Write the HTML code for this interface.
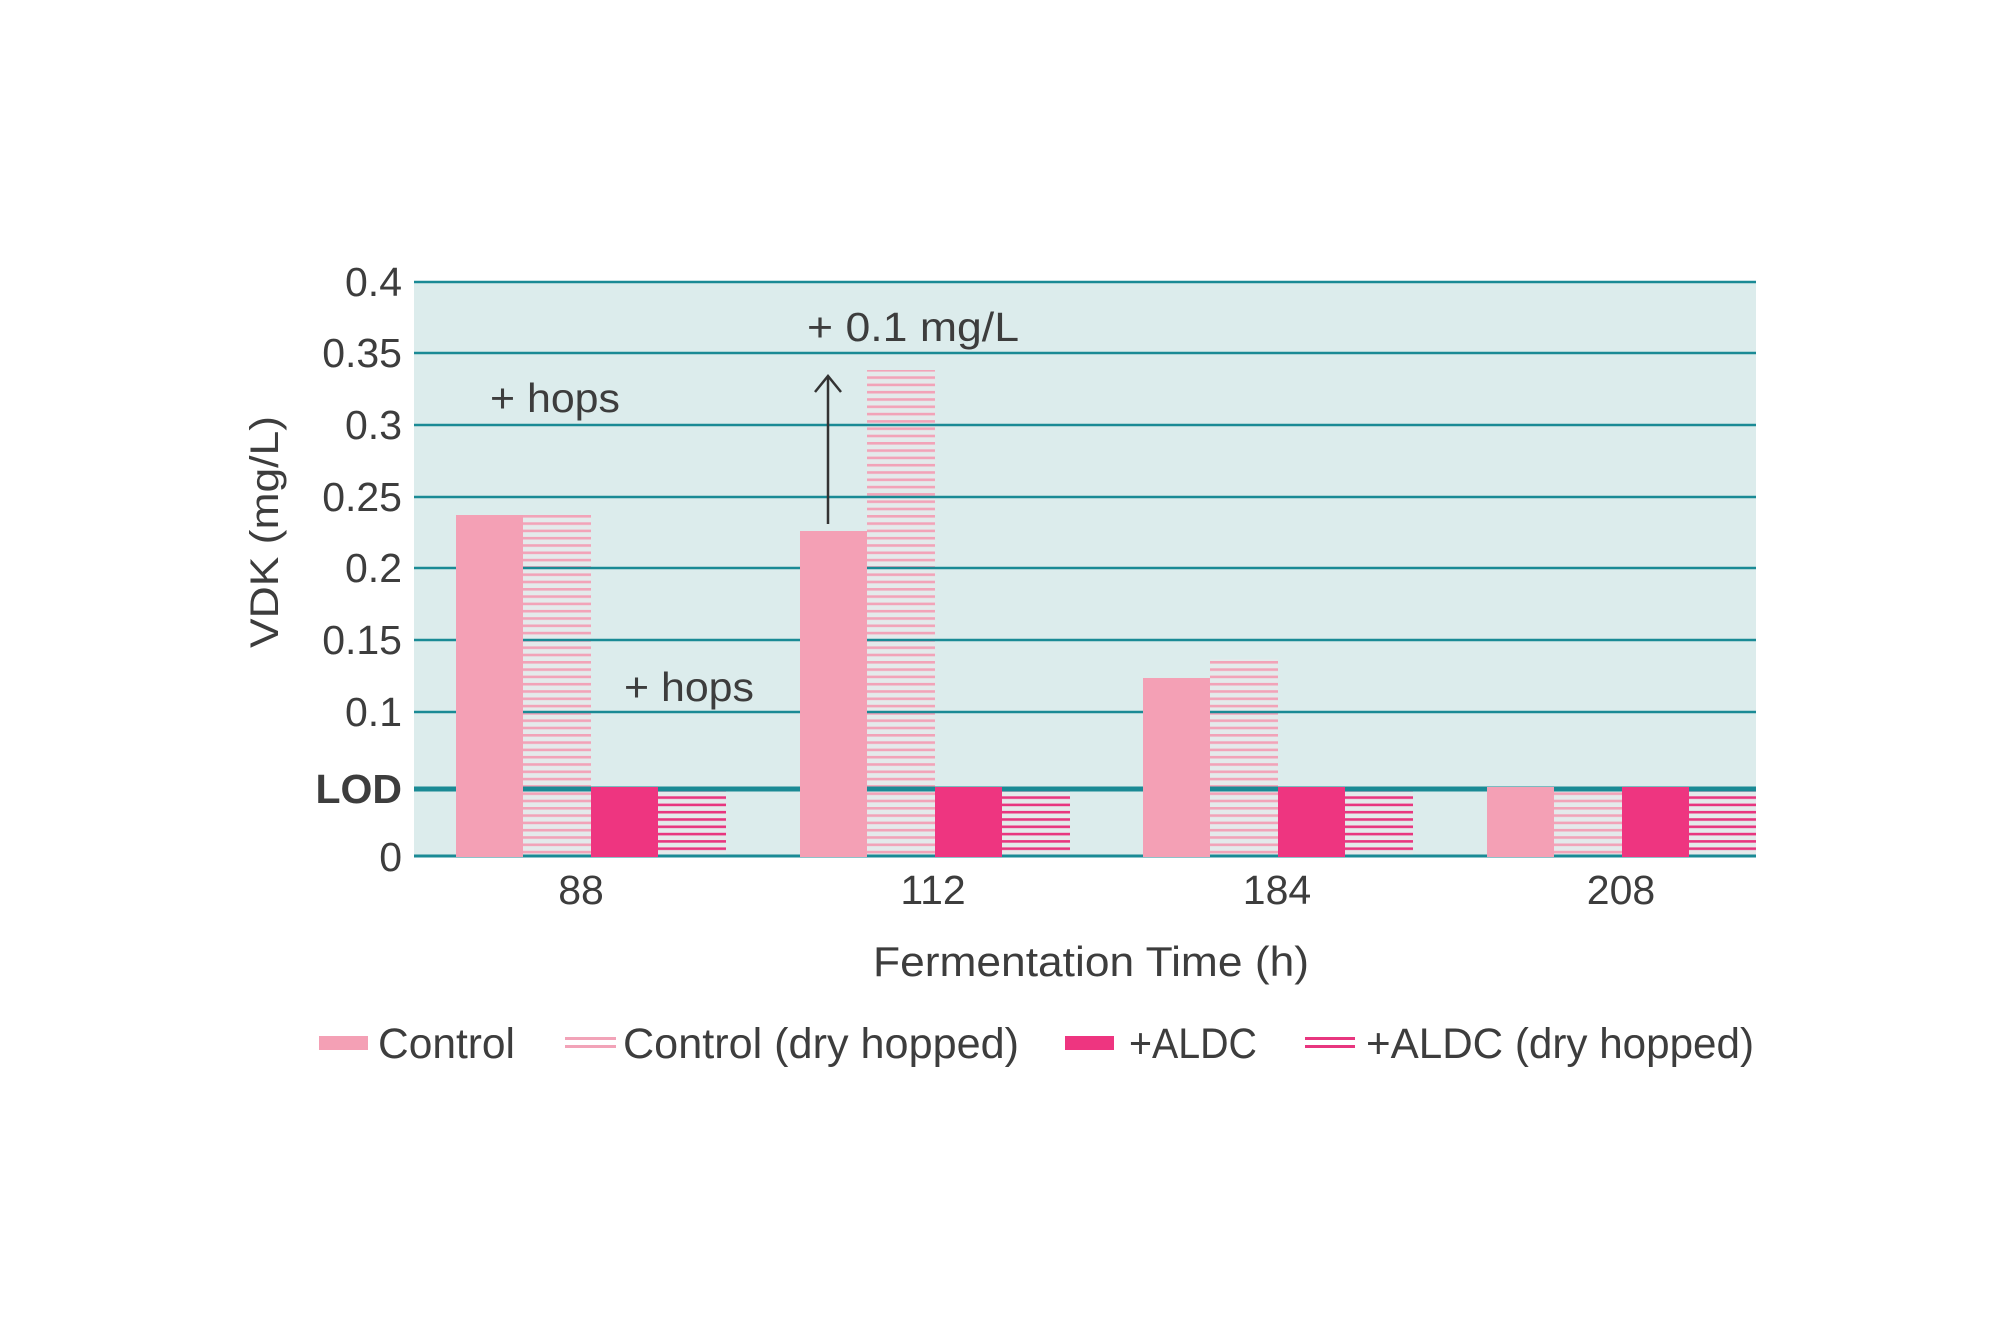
<!DOCTYPE html>
<html><head><meta charset="utf-8"><style>
html,body{margin:0;padding:0;background:#fff;}
svg{display:block;}
text{font-family:"Liberation Sans",sans-serif;fill:#3d3d3d;}
</style></head><body>
<svg width="2000" height="1333" viewBox="0 0 2000 1333" xmlns="http://www.w3.org/2000/svg">
<defs>
<pattern id="lt" width="10" height="7.3" patternUnits="userSpaceOnUse" y="515">
<rect width="10" height="7.3" fill="#e4eaeb"/><rect width="10" height="2.6" fill="#f2a3b8"/></pattern>
<pattern id="dk" width="10" height="7.3" patternUnits="userSpaceOnUse" y="789">
<rect width="10" height="7.3" fill="#e4eaeb"/><rect width="10" height="2.6" fill="#e8367f"/></pattern>
</defs>
<rect x="414" y="282" width="1342" height="574" fill="#dcecec"/>
<rect x="523" y="515" width="68" height="341" fill="url(#lt)"/>
<rect x="867" y="370" width="68" height="486" fill="url(#lt)"/>
<rect x="1210" y="659" width="68" height="197" fill="url(#lt)"/>
<rect x="1554" y="789" width="68" height="67" fill="url(#lt)"/>
<rect x="658" y="789" width="68" height="67" fill="url(#dk)"/>
<rect x="1002" y="789" width="68" height="67" fill="url(#dk)"/>
<rect x="1345" y="789" width="68" height="67" fill="url(#dk)"/>
<rect x="1689" y="789" width="67" height="67" fill="url(#dk)"/>
<g stroke="#1a8a95" stroke-width="2.5">
<line x1="414" x2="1756" y1="282" y2="282"/>
<line x1="414" x2="1756" y1="353" y2="353"/>
<line x1="414" x2="1756" y1="425" y2="425"/>
<line x1="414" x2="1756" y1="497" y2="497"/>
<line x1="414" x2="1756" y1="568" y2="568"/>
<line x1="414" x2="1756" y1="640" y2="640"/>
<line x1="414" x2="1756" y1="712" y2="712"/>
<line x1="414" x2="1756" y1="856" y2="856" stroke-width="3"/>
<line x1="414" x2="1756" y1="789" y2="789" stroke-width="5"/>
</g>
<g fill="#f4a0b5">
<rect x="456" y="515" width="67" height="342"/>
<rect x="800" y="531" width="67" height="326"/>
<rect x="1143" y="678" width="67" height="179"/>
<rect x="1487" y="787" width="67" height="70"/>
</g>
<g fill="#ee3580">
<rect x="591" y="787" width="67" height="70"/>
<rect x="935" y="787" width="67" height="70"/>
<rect x="1278" y="787" width="67" height="70"/>
<rect x="1622" y="787" width="67" height="70"/>
</g>
<g font-size="41" text-anchor="end">
<text x="402" y="296">0.4</text>
<text x="402" y="367">0.35</text>
<text x="402" y="439">0.3</text>
<text x="402" y="511">0.25</text>
<text x="402" y="582">0.2</text>
<text x="402" y="654">0.15</text>
<text x="402" y="726">0.1</text>
<text x="402" y="803" font-weight="bold">LOD</text>
<text x="402" y="871">0</text>
</g>
<text transform="translate(278,532) rotate(-90)" font-size="40" text-anchor="middle" textLength="232" lengthAdjust="spacingAndGlyphs">VDK (mg/L)</text>
<g font-size="41" text-anchor="middle">
<text x="581" y="904">88</text>
<text x="933" y="904">112</text>
<text x="1277" y="904">184</text>
<text x="1621" y="904">208</text>
</g>
<text x="873" y="976" font-size="42" textLength="436" lengthAdjust="spacingAndGlyphs">Fermentation Time (h)</text>
<text x="490" y="412" font-size="41" textLength="130" lengthAdjust="spacingAndGlyphs">+ hops</text>
<text x="624" y="701" font-size="41" textLength="130" lengthAdjust="spacingAndGlyphs">+ hops</text>
<text x="807" y="341" font-size="41" textLength="212" lengthAdjust="spacingAndGlyphs">+ 0.1 mg/L</text>
<g stroke="#333" stroke-width="2.5" fill="none">
<line x1="828" y1="524" x2="828" y2="376"/>
<polyline points="815,392 828,376 841,392"/>
</g>
<rect x="319" y="1036" width="49" height="14" fill="#f4a0b5"/>
<rect x="565" y="1037" width="51" height="3" fill="#f2a3b8"/>
<rect x="565" y="1045" width="51" height="3" fill="#f2a3b8"/>
<rect x="1065" y="1036" width="49" height="14" fill="#ee3580"/>
<rect x="1305" y="1037" width="50" height="3" fill="#e8367f"/>
<rect x="1305" y="1045" width="50" height="3" fill="#e8367f"/>
<g font-size="43">
<text x="378" y="1058" textLength="137" lengthAdjust="spacingAndGlyphs">Control</text>
<text x="623" y="1058" textLength="396" lengthAdjust="spacingAndGlyphs">Control (dry hopped)</text>
<text x="1129" y="1058" textLength="128" lengthAdjust="spacingAndGlyphs">+ALDC</text>
<text x="1366" y="1058" textLength="388" lengthAdjust="spacingAndGlyphs">+ALDC (dry hopped)</text>
</g>
</svg>
</body></html>
